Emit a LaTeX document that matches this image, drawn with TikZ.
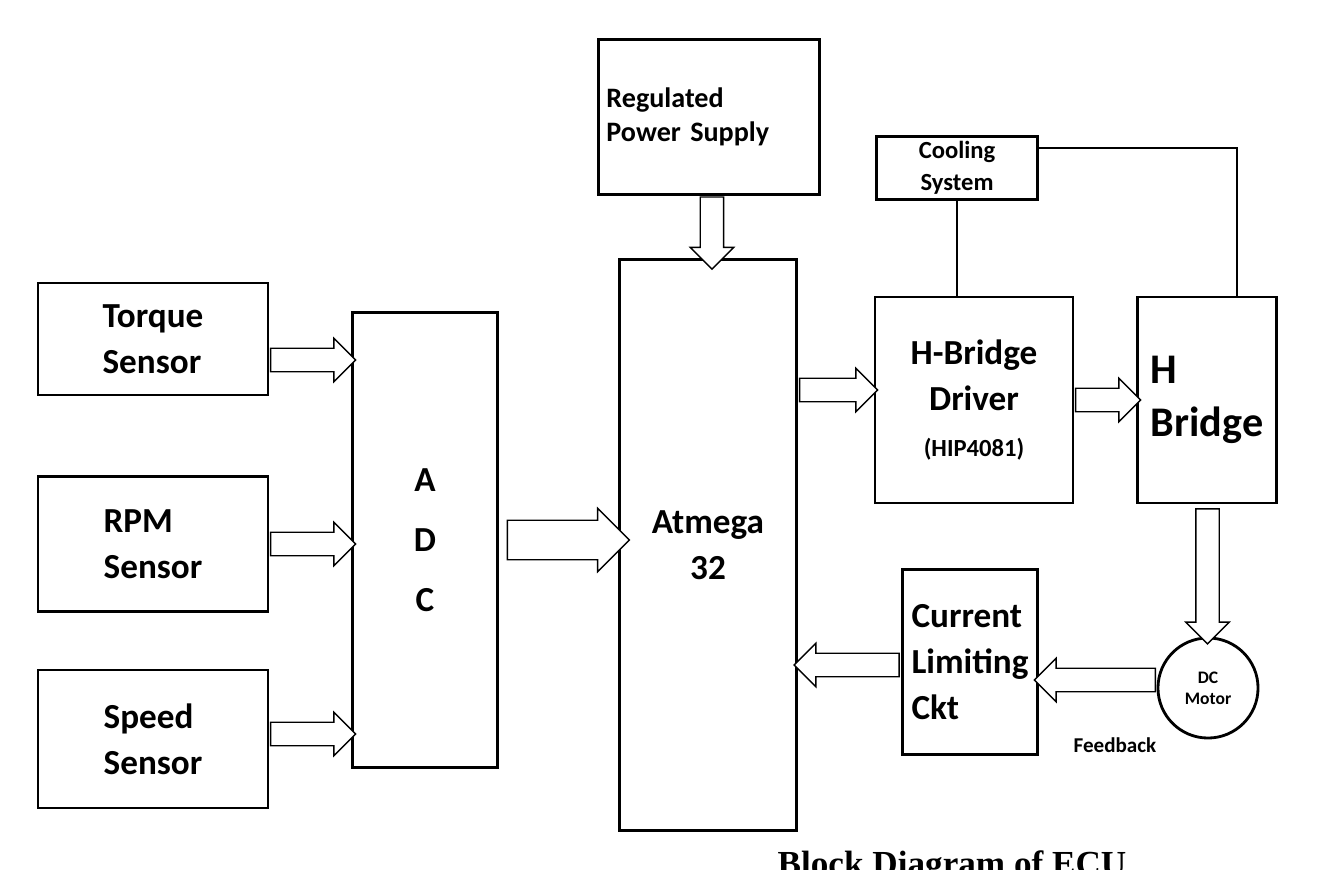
\documentclass[tikz,border=0pt]{standalone}
\usepackage{fontspec}
\setmainfont{Carlito}
\newfontfamily\titlefont{Liberation Serif}
\usetikzlibrary{shapes.arrows,shapes.geometric,calc}

\begin{document}
\begin{tikzpicture}[x=0.01cm,y=-0.01cm,
    blk/.style={draw, thick, inner sep=0pt, font=\fontsize{10}{13}\selectfont\bfseries, align=left},
    fat/.style={single arrow, draw, fill=white, inner xsep=0pt, inner ysep=0.11cm,
      minimum height=#1, single arrow head extend=0.1cm},
    fat/.default=0.85cm,
    down/.style={shape border rotate=270, inner xsep=0.11cm, inner ysep=0pt}]
  \useasboundingbox (0,0) rectangle (1324,870);
  % sensors
  \node [blk, minimum width=2.3cm, minimum height=1.12cm] (torque) at (153,339) {Torque\\Sensor};
  \node [blk, minimum width=2.3cm, minimum height=1.35cm] (rpm) at (153,544) {RPM\\Sensor};
  \node [blk, minimum width=2.3cm, minimum height=1.38cm] (speed) at (153,739) {Speed\\Sensor};
  \node [blk, minimum width=1.45cm, minimum height=4.55cm, align=center] (adc) at (425,540) {A\\[4pt]D\\[4pt]C};
  \node [blk, minimum width=1.77cm, minimum height=5.7cm, align=center] (mcu) at (708,545) {Atmega\\32};
  \node [blk, minimum width=2.21cm, minimum height=1.55cm, font=\fontsize{8}{9.5}\selectfont\bfseries, anchor=north west,
    text width=2.05cm] (psu) at (597,38) {Regulated\\Power Supply\\[26pt]};
  \node [blk, minimum width=1.61cm, minimum height=0.63cm, font=\fontsize{7}{9}\selectfont\bfseries, align=center] (cool) at (957,168) {Cooling\\System};
  \node [blk, minimum width=1.98cm, minimum height=2.06cm, align=center] (drv) at (974,400) {H-Bridge\\Driver\\{\fontsize{7}{10}\selectfont (HIP4081)}};
  \node [blk, minimum width=1.39cm, minimum height=2.06cm, font=\fontsize{12}{15}\selectfont\bfseries] (hb) at (1207,400) {H\\Bridge};
  \node [blk, minimum width=1.35cm, minimum height=1.85cm] (clc) at (970,662) {Current\\Limiting\\Ckt};
  \node [draw, thick, circle, minimum size=1.0cm, inner sep=0pt, align=center,
    font=\fontsize{5}{6}\selectfont\bfseries] (motor) at (1208,688) {DC\\Motor};
  \node [font=\fontsize{6}{8}\selectfont\bfseries] (fb) at (1115,745) {Feedback};
  \node [font=\fontsize{10}{12}\selectfont\bfseries\titlefont, anchor=north] (title) at (952,838) {Block Diagram of ECU};

  % hollow arrows
  \node [fat] (a1) at ($(torque.east)!0.5!(torque.east -| adc.west)+(-3,21)$) {};
  \node [fat] (a2) at ($(rpm.east)!0.5!(rpm.east -| adc.west)+(-3,0)$) {};
  \node [fat] (a3) at ($(speed.east)!0.5!(speed.east -| adc.west)+(-3,-5)$) {};
  \node [fat=1.22cm, inner ysep=0.19cm, single arrow head extend=0.12cm] (a4) at ($(adc.east)!0.5!(adc.east -| mcu.west)$) {};
  \node [fat=0.72cm, down] (a5) at ($(psu.south)!0.5!(psu.south |- mcu.north)+(3,0)$) {};
  \node [fat=0.78cm] (a6) at ($(mcu.east |- drv.west)!0.5!(drv.west)+(-3,-10)$) {};
  \node [fat=0.65cm] (a7) at ($(drv.east)!0.5!(hb.west)+(-3,0)$) {};
  \node [fat=1.35cm, down] (a8) at ($(hb.south)!0.5!(motor.north)$) {};
  \node [fat=1.21cm, shape border rotate=180] (a9) at ($(clc.east |- motor.west)!0.5!(motor.west)+(3,-8)$) {};
  \node [fat=1.05cm, shape border rotate=180] (a10) at ($(mcu.east |- clc.west)!0.5!(clc.west)+(3,3)$) {};

  % cooling lines
  \draw (cool) -- (cool |- drv.north);
  \draw (cool.east |- 0,148) -| ($(hb.north)+(30,0)$);
\end{tikzpicture}
\end{document}
